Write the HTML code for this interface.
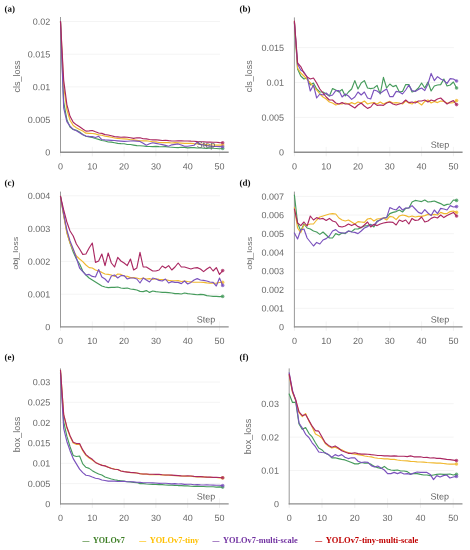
<!DOCTYPE html>
<html lang="en"><head><meta charset="utf-8"><title>Loss curves</title>
<style>
html,body{margin:0;padding:0;background:#fff;}
body{width:470px;height:550px;overflow:hidden;}
svg{display:block;}
.t{font-family:"Liberation Sans",Arial,sans-serif;font-size:9px;fill:#6a6a6a;}
.s{font-family:"Liberation Sans",Arial,sans-serif;font-size:9px;fill:#626262;}
.pl{font-family:"Liberation Serif","Times New Roman",serif;font-weight:bold;font-size:9px;fill:#111;}
.lg{font-family:"Liberation Serif","Times New Roman",serif;font-weight:bold;font-size:9.2px;}
</style></head><body>
<svg width="470" height="550" viewBox="0 0 470 550">
<rect width="470" height="550" fill="#fff"/>
<g><line x1="60.5" y1="21.5" x2="220" y2="21.5" stroke="#f4f4f4" stroke-width="1"/>
<text transform="translate(50.2,24.8) rotate(0.03)" text-anchor="end" class="t">0.02</text>
<line x1="60.5" y1="54.2" x2="220" y2="54.2" stroke="#f4f4f4" stroke-width="1"/>
<text transform="translate(50.2,57.5) rotate(0.03)" text-anchor="end" class="t">0.015</text>
<line x1="60.5" y1="86.9" x2="220" y2="86.9" stroke="#f4f4f4" stroke-width="1"/>
<text transform="translate(50.2,90.2) rotate(0.03)" text-anchor="end" class="t">0.01</text>
<line x1="60.5" y1="119.6" x2="220" y2="119.6" stroke="#f4f4f4" stroke-width="1"/>
<text transform="translate(50.2,122.9) rotate(0.03)" text-anchor="end" class="t">0.005</text>
<text transform="translate(50.2,155.6) rotate(0.03)" text-anchor="end" class="t">0</text>
<line x1="60.5" y1="152.3" x2="60.5" y2="156.3" stroke="#efefef" stroke-width="1"/>
<text transform="translate(60.5,169.4) rotate(0.03)" text-anchor="middle" class="t">0</text>
<line x1="92.3" y1="146.8" x2="92.3" y2="152.3" stroke="#f3f3f3" stroke-width="1"/>
<line x1="92.3" y1="152.3" x2="92.3" y2="156.3" stroke="#efefef" stroke-width="1"/>
<text transform="translate(92.3,169.4) rotate(0.03)" text-anchor="middle" class="t">10</text>
<line x1="124.1" y1="146.8" x2="124.1" y2="152.3" stroke="#f3f3f3" stroke-width="1"/>
<line x1="124.1" y1="152.3" x2="124.1" y2="156.3" stroke="#efefef" stroke-width="1"/>
<text transform="translate(124.1,169.4) rotate(0.03)" text-anchor="middle" class="t">20</text>
<line x1="155.9" y1="146.8" x2="155.9" y2="152.3" stroke="#f3f3f3" stroke-width="1"/>
<line x1="155.9" y1="152.3" x2="155.9" y2="156.3" stroke="#efefef" stroke-width="1"/>
<text transform="translate(155.9,169.4) rotate(0.03)" text-anchor="middle" class="t">30</text>
<line x1="187.7" y1="146.8" x2="187.7" y2="152.3" stroke="#f3f3f3" stroke-width="1"/>
<line x1="187.7" y1="152.3" x2="187.7" y2="156.3" stroke="#efefef" stroke-width="1"/>
<text transform="translate(187.7,169.4) rotate(0.03)" text-anchor="middle" class="t">40</text>
<line x1="219.5" y1="146.8" x2="219.5" y2="152.3" stroke="#f3f3f3" stroke-width="1"/>
<line x1="219.5" y1="152.3" x2="219.5" y2="156.3" stroke="#efefef" stroke-width="1"/>
<text transform="translate(219.5,169.4) rotate(0.03)" text-anchor="middle" class="t">50</text>
<line x1="60.5" y1="17" x2="60.5" y2="152.8" stroke="#999" stroke-width="1"/>
<line x1="60" y1="152.3" x2="228.68" y2="152.3" stroke="#8e8e8e" stroke-width="1.4"/>
<polyline points="60.5,21.5 63.68,101.94 66.86,119.6 70.04,127.12 73.22,129.41 76.4,130.19 79.58,132.03 82.76,134.38 85.94,136.25 89.12,136.9 92.3,137.49 95.48,138.54 98.66,139.4 101.84,140.53 105.02,141.04 108.2,142.02 111.38,142.14 114.56,142.74 117.74,143.32 120.92,143.67 124.1,143.72 127.28,144.46 130.46,144.54 133.64,145.15 136.82,145.69 140,145.72 143.18,146.05 146.36,146.35 149.54,146.54 152.72,146.64 155.9,146.31 159.08,146.67 162.26,146.8 165.44,146.66 168.62,147.05 171.8,147.2 174.98,147.45 178.16,147.63 181.34,147.26 184.52,147.44 187.7,147.82 190.88,147.57 194.06,147.69 197.24,147.96 200.42,147.79 203.6,148.22 206.78,148.33 209.96,147.91 213.14,148.29 216.32,148.53 219.5,148.71 222.68,148.51" fill="none" stroke="#469b5c" stroke-width="1.15" stroke-linejoin="round" stroke-linecap="round"/>
<circle cx="222.68" cy="148.51" r="1.8" fill="#469b5c" fill-opacity="0.75"/>
<polyline points="60.5,21.5 63.68,86.25 66.86,109.79 70.04,120.25 73.22,125.49 76.4,127.71 79.58,129.41 82.76,130.98 85.94,133.19 89.12,133.31 92.3,133.47 95.48,133.94 98.66,134.89 101.84,135.2 105.02,136.29 108.2,136.69 111.38,137.28 114.56,137.99 117.74,138.36 120.92,138.73 124.1,138.92 127.28,139.19 130.46,139.78 133.64,139.89 136.82,140.32 140,140.8 143.18,140.9 146.36,140.78 149.54,141.26 152.72,141.76 155.9,141.87 159.08,142.46 162.26,142.59 165.44,142.67 168.62,142.59 171.8,142.96 174.98,142.65 178.16,142.87 181.34,143.08 184.52,143.37 187.7,143.33 190.88,143.32 194.06,143.64 197.24,143.82 200.42,144.05 203.6,144.21 206.78,144.6 209.96,144.71 213.14,145 216.32,145.1 219.5,145.03 222.68,145.11" fill="none" stroke="#f0b82f" stroke-width="1.15" stroke-linejoin="round" stroke-linecap="round"/>
<circle cx="222.68" cy="145.11" r="1.8" fill="#f0b82f" fill-opacity="0.75"/>
<polyline points="60.5,21.5 63.68,107.83 66.86,121.56 70.04,126.14 73.22,129.41 76.4,130.72 79.58,132.68 82.76,134.77 85.94,136.08 89.12,136.41 92.3,136.6 95.48,137.52 98.66,136.28 101.84,139.55 105.02,139.87 108.2,140.09 111.38,140.31 114.56,140.53 117.74,140.83 120.92,141.14 124.1,141.44 127.28,141.25 130.46,141.05 133.64,140.86 136.82,141.15 140,141.44 143.18,143.34 146.36,145.24 149.54,143.8 152.72,142.75 155.9,143.34 159.08,143.99 162.26,144.65 165.44,145.43 168.62,146.22 171.8,144.84 174.98,144.39 178.16,143.93 181.34,145.07 184.52,146.22 187.7,146.22 190.88,145.73 194.06,145.24 197.24,142.03 200.42,144.32 203.6,145.04 206.78,145.76 209.96,146.09 213.14,146.41 216.32,146.52 219.5,146.63 222.68,146.74" fill="none" stroke="#7b52bd" stroke-width="1.15" stroke-linejoin="round" stroke-linecap="round"/>
<circle cx="222.68" cy="146.74" r="1.8" fill="#7b52bd" fill-opacity="0.75"/>
<polyline points="60.5,21.5 63.68,80.36 66.86,104.56 70.04,116.33 73.22,122.22 76.4,124.83 79.58,126.79 82.76,129.02 85.94,131.12 89.12,130.89 92.3,130.55 95.48,131.83 98.66,132.97 101.84,133.36 105.02,134.64 108.2,135.04 111.38,135.81 114.56,136.6 117.74,136.93 120.92,137.22 124.1,137.19 127.28,137.3 130.46,137.74 133.64,138.42 136.82,137.81 140,137.75 143.18,138.76 146.36,138.93 149.54,139.5 152.72,139.93 155.9,139.71 159.08,140.1 162.26,140.51 165.44,140.24 168.62,140.67 171.8,141.01 174.98,141 178.16,140.91 181.34,140.8 184.52,141.01 187.7,140.97 190.88,141.17 194.06,141.23 197.24,141.65 200.42,141.8 203.6,141.72 206.78,142.08 209.96,142.01 213.14,142.22 216.32,142.27 219.5,142.65 222.68,142.75" fill="none" stroke="#aa2862" stroke-width="1.15" stroke-linejoin="round" stroke-linecap="round"/>
<circle cx="222.68" cy="142.75" r="1.8" fill="#aa2862" fill-opacity="0.75"/>
<text transform="translate(215.3,147.8) rotate(0.03)" text-anchor="end" class="s">Step</text>
<text transform="translate(20.1,76.5) rotate(-90) scale(1,1.0)" text-anchor="middle" class="t">cls_loss</text>
<text transform="translate(4.6,11.7) rotate(0.03)" class="pl">(a)</text></g>
<g><line x1="294.4" y1="47.6" x2="453.9" y2="47.6" stroke="#f4f4f4" stroke-width="1"/>
<text transform="translate(284.1,50.9) rotate(0.03)" text-anchor="end" class="t">0.015</text>
<line x1="294.4" y1="82.5" x2="453.9" y2="82.5" stroke="#f4f4f4" stroke-width="1"/>
<text transform="translate(284.1,85.8) rotate(0.03)" text-anchor="end" class="t">0.01</text>
<line x1="294.4" y1="117.4" x2="453.9" y2="117.4" stroke="#f4f4f4" stroke-width="1"/>
<text transform="translate(284.1,120.7) rotate(0.03)" text-anchor="end" class="t">0.005</text>
<text transform="translate(284.1,155.6) rotate(0.03)" text-anchor="end" class="t">0</text>
<line x1="294.4" y1="152.3" x2="294.4" y2="156.3" stroke="#efefef" stroke-width="1"/>
<text transform="translate(294.4,169.4) rotate(0.03)" text-anchor="middle" class="t">0</text>
<line x1="326.2" y1="146.8" x2="326.2" y2="152.3" stroke="#f3f3f3" stroke-width="1"/>
<line x1="326.2" y1="152.3" x2="326.2" y2="156.3" stroke="#efefef" stroke-width="1"/>
<text transform="translate(326.2,169.4) rotate(0.03)" text-anchor="middle" class="t">10</text>
<line x1="358" y1="146.8" x2="358" y2="152.3" stroke="#f3f3f3" stroke-width="1"/>
<line x1="358" y1="152.3" x2="358" y2="156.3" stroke="#efefef" stroke-width="1"/>
<text transform="translate(358,169.4) rotate(0.03)" text-anchor="middle" class="t">20</text>
<line x1="389.8" y1="146.8" x2="389.8" y2="152.3" stroke="#f3f3f3" stroke-width="1"/>
<line x1="389.8" y1="152.3" x2="389.8" y2="156.3" stroke="#efefef" stroke-width="1"/>
<text transform="translate(389.8,169.4) rotate(0.03)" text-anchor="middle" class="t">30</text>
<line x1="421.6" y1="146.8" x2="421.6" y2="152.3" stroke="#f3f3f3" stroke-width="1"/>
<line x1="421.6" y1="152.3" x2="421.6" y2="156.3" stroke="#efefef" stroke-width="1"/>
<text transform="translate(421.6,169.4) rotate(0.03)" text-anchor="middle" class="t">40</text>
<line x1="453.4" y1="146.8" x2="453.4" y2="152.3" stroke="#f3f3f3" stroke-width="1"/>
<line x1="453.4" y1="152.3" x2="453.4" y2="156.3" stroke="#efefef" stroke-width="1"/>
<text transform="translate(453.4,169.4) rotate(0.03)" text-anchor="middle" class="t">50</text>
<line x1="294.4" y1="17.4" x2="294.4" y2="152.8" stroke="#999" stroke-width="1"/>
<line x1="293.9" y1="152.3" x2="462.58" y2="152.3" stroke="#8e8e8e" stroke-width="1.4"/>
<polyline points="294.4,23 297.58,69 300.76,76 303.94,79 307.12,78 310.3,85 313.48,83 316.66,89 319.84,92 323.02,92 326.2,94 329.38,96 332.56,88.6 335.74,90 338.92,92 342.1,89.4 345.28,96 348.46,92 351.64,89 354.82,80.6 358,89 361.18,83 364.36,80.6 367.54,88 370.72,88.6 373.9,88 377.08,85.4 380.26,94 383.44,77.4 386.62,88 389.8,84 392.98,86.6 396.16,85.4 399.34,92 402.52,91.4 405.7,84.6 408.88,84.6 412.06,92 415.24,91 418.42,88 421.6,83 424.78,88 427.96,82 431.14,91 434.32,86 437.5,85 440.68,84.6 443.86,79 447.04,86 450.22,85 453.4,82 456.58,88" fill="none" stroke="#469b5c" stroke-width="1.15" stroke-linejoin="round" stroke-linecap="round"/>
<circle cx="456.58" cy="88" r="1.8" fill="#469b5c" fill-opacity="0.75"/>
<polyline points="294.4,21.4 297.58,68 300.76,73 303.94,76 307.12,79.4 310.3,83 313.48,86.6 316.66,90 319.84,94 323.02,97 326.2,99 329.38,102 332.56,103 335.74,105 338.92,104 342.1,104 345.28,103 348.46,104 351.64,102.6 354.82,104 358,102 361.18,103 364.36,101 367.54,104 370.72,103 373.9,102.6 377.08,104 380.26,102 383.44,104 386.62,102.6 389.8,101.4 392.98,103 396.16,102.6 399.34,103 402.52,104 405.7,101 408.88,103 412.06,104 415.24,101.4 418.42,102.6 421.6,105 424.78,101.4 427.96,100 431.14,103 434.32,101.4 437.5,102.6 440.68,101 443.86,101.4 447.04,103 450.22,103 453.4,102.6 456.58,100.6" fill="none" stroke="#f0b82f" stroke-width="1.15" stroke-linejoin="round" stroke-linecap="round"/>
<circle cx="456.58" cy="100.6" r="1.8" fill="#f0b82f" fill-opacity="0.75"/>
<polyline points="294.4,22 297.58,64 300.76,70 303.94,72 307.12,77 310.3,91 313.48,85 316.66,98 319.84,94 323.02,95 326.2,93 329.38,96 332.56,95 335.74,90.6 338.92,90.6 342.1,97 345.28,94 348.46,96 351.64,99.4 354.82,97 358,92 361.18,95 364.36,92 367.54,98 370.72,99 373.9,90 377.08,91 380.26,93.4 383.44,91 386.62,89 389.8,96.6 392.98,96.6 396.16,91.4 399.34,92 402.52,94 405.7,90 408.88,85 412.06,90.6 415.24,91.4 418.42,89.4 421.6,88 424.78,90.6 427.96,84 431.14,73.4 434.32,80.6 437.5,76.6 440.68,79 443.86,80.6 447.04,83.4 450.22,78.6 453.4,79 456.58,81" fill="none" stroke="#7b52bd" stroke-width="1.15" stroke-linejoin="round" stroke-linecap="round"/>
<circle cx="456.58" cy="81" r="1.8" fill="#7b52bd" fill-opacity="0.75"/>
<polyline points="294.4,21 297.58,63 300.76,66.6 303.94,73 307.12,77 310.3,79 313.48,78 316.66,83 319.84,89 323.02,93 326.2,97 329.38,100 332.56,100 335.74,103 338.92,104 342.1,102.6 345.28,104 348.46,104 351.64,106 354.82,108 358,105 361.18,103 364.36,106 367.54,108.4 370.72,107 373.9,103 377.08,105.4 380.26,105 383.44,105.4 386.62,103 389.8,102 392.98,104 396.16,105 399.34,104 402.52,103 405.7,100 408.88,102.6 412.06,102 415.24,103 418.42,101 421.6,101 424.78,100 427.96,102 431.14,100 434.32,101 437.5,99 440.68,98 443.86,101 447.04,104 450.22,102 453.4,100.6 456.58,104.6" fill="none" stroke="#aa2862" stroke-width="1.15" stroke-linejoin="round" stroke-linecap="round"/>
<circle cx="456.58" cy="104.6" r="1.8" fill="#aa2862" fill-opacity="0.75"/>
<text transform="translate(449.2,147.8) rotate(0.03)" text-anchor="end" class="s">Step</text>
<text transform="translate(251.7,76.3) rotate(-90) scale(1,0.95)" text-anchor="middle" class="t">cls_loss</text>
<text transform="translate(239.6,11.7) rotate(0.03)" class="pl">(b)</text></g>
<g><line x1="60.5" y1="195.8" x2="220" y2="195.8" stroke="#f4f4f4" stroke-width="1"/>
<text transform="translate(50.2,199.1) rotate(0.03)" text-anchor="end" class="t">0.004</text>
<line x1="60.5" y1="228.6" x2="220" y2="228.6" stroke="#f4f4f4" stroke-width="1"/>
<text transform="translate(50.2,231.9) rotate(0.03)" text-anchor="end" class="t">0.003</text>
<line x1="60.5" y1="261.4" x2="220" y2="261.4" stroke="#f4f4f4" stroke-width="1"/>
<text transform="translate(50.2,264.7) rotate(0.03)" text-anchor="end" class="t">0.002</text>
<line x1="60.5" y1="294.2" x2="220" y2="294.2" stroke="#f4f4f4" stroke-width="1"/>
<text transform="translate(50.2,297.5) rotate(0.03)" text-anchor="end" class="t">0.001</text>
<text transform="translate(50.2,330.2) rotate(0.03)" text-anchor="end" class="t">0</text>
<line x1="60.5" y1="326.9" x2="60.5" y2="330.9" stroke="#efefef" stroke-width="1"/>
<text transform="translate(60.5,344) rotate(0.03)" text-anchor="middle" class="t">0</text>
<line x1="92.3" y1="321.4" x2="92.3" y2="326.9" stroke="#f3f3f3" stroke-width="1"/>
<line x1="92.3" y1="326.9" x2="92.3" y2="330.9" stroke="#efefef" stroke-width="1"/>
<text transform="translate(92.3,344) rotate(0.03)" text-anchor="middle" class="t">10</text>
<line x1="124.1" y1="321.4" x2="124.1" y2="326.9" stroke="#f3f3f3" stroke-width="1"/>
<line x1="124.1" y1="326.9" x2="124.1" y2="330.9" stroke="#efefef" stroke-width="1"/>
<text transform="translate(124.1,344) rotate(0.03)" text-anchor="middle" class="t">20</text>
<line x1="155.9" y1="321.4" x2="155.9" y2="326.9" stroke="#f3f3f3" stroke-width="1"/>
<line x1="155.9" y1="326.9" x2="155.9" y2="330.9" stroke="#efefef" stroke-width="1"/>
<text transform="translate(155.9,344) rotate(0.03)" text-anchor="middle" class="t">30</text>
<line x1="187.7" y1="321.4" x2="187.7" y2="326.9" stroke="#f3f3f3" stroke-width="1"/>
<line x1="187.7" y1="326.9" x2="187.7" y2="330.9" stroke="#efefef" stroke-width="1"/>
<text transform="translate(187.7,344) rotate(0.03)" text-anchor="middle" class="t">40</text>
<line x1="219.5" y1="321.4" x2="219.5" y2="326.9" stroke="#f3f3f3" stroke-width="1"/>
<line x1="219.5" y1="326.9" x2="219.5" y2="330.9" stroke="#efefef" stroke-width="1"/>
<text transform="translate(219.5,344) rotate(0.03)" text-anchor="middle" class="t">50</text>
<line x1="60.5" y1="191.6" x2="60.5" y2="327.4" stroke="#999" stroke-width="1"/>
<line x1="60" y1="326.9" x2="228.68" y2="326.9" stroke="#8e8e8e" stroke-width="1.4"/>
<polyline points="60.5,196.4 63.68,215 66.86,232 70.04,243 73.22,252 76.4,259 79.58,264 82.76,271 85.94,275 89.12,278 92.3,280 95.48,282 98.66,284 101.84,286 105.02,287 108.2,287.6 111.38,287.4 114.56,287.4 117.74,287 120.92,288 124.1,288.4 127.28,288 130.46,289 133.64,289.4 136.82,290 140,291.4 143.18,291.6 146.36,290.6 149.54,292.4 152.72,291 155.9,291.6 159.08,292 162.26,292.4 165.44,292.4 168.62,292.6 171.8,293 174.98,293.6 178.16,293.6 181.34,294 184.52,293 187.7,293.6 190.88,294 194.06,294.4 197.24,294.8 200.42,294.4 203.6,294.6 206.78,295.6 209.96,296 213.14,296.4 216.32,296.4 219.5,296.6 222.68,296.4" fill="none" stroke="#469b5c" stroke-width="1.15" stroke-linejoin="round" stroke-linecap="round"/>
<circle cx="222.68" cy="296.4" r="1.8" fill="#469b5c" fill-opacity="0.75"/>
<polyline points="60.5,196.4 63.68,216 66.86,233 70.04,243 73.22,250 76.4,256 79.58,259 82.76,261.6 85.94,265 89.12,267.6 92.3,268 95.48,270 98.66,271 101.84,272.4 105.02,274 108.2,274.4 111.38,275 114.56,276.4 117.74,274 120.92,274.4 124.1,276 127.28,276.4 130.46,277.6 133.64,277.6 136.82,278 140,279 143.18,278 146.36,279 149.54,278.68 152.72,279.51 155.9,278.71 159.08,279.41 162.26,279.53 165.44,279.8 168.62,280.38 171.8,280.71 174.98,280.78 178.16,280.65 181.34,281.55 184.52,281.08 187.7,281.52 190.88,281.83 194.06,282.27 197.24,282.23 200.42,282.28 203.6,282.33 206.78,282.83 209.96,283.06 213.14,283.26 216.32,283.15 219.5,282.52 222.68,282.4" fill="none" stroke="#f0b82f" stroke-width="1.15" stroke-linejoin="round" stroke-linecap="round"/>
<circle cx="222.68" cy="282.4" r="1.8" fill="#f0b82f" fill-opacity="0.75"/>
<polyline points="60.5,196.4 63.68,214 66.86,230 70.04,241 73.22,249 76.4,258 79.58,268 82.76,271.6 85.94,275 89.12,274.4 92.3,276.4 95.48,277 98.66,269.6 101.84,277 105.02,279 108.2,282.4 111.38,276 114.56,275 117.74,278 120.92,275.6 124.1,275.6 127.28,279 130.46,278 133.64,278 136.82,279 140,283 143.18,278 146.36,280 149.54,282 152.72,278 155.9,279 159.08,280.4 162.26,281 165.44,279 168.62,283 171.8,281.6 174.98,282.4 178.16,282.4 181.34,283.6 184.52,281 187.7,284 190.88,282.4 194.06,280 197.24,278.6 200.42,280 203.6,280.4 206.78,281 209.96,282 213.14,282.4 216.32,286 219.5,278 222.68,285.4" fill="none" stroke="#7b52bd" stroke-width="1.15" stroke-linejoin="round" stroke-linecap="round"/>
<circle cx="222.68" cy="285.4" r="1.8" fill="#7b52bd" fill-opacity="0.75"/>
<polyline points="60.5,196.4 63.68,210 66.86,222 70.04,231 73.22,236 76.4,244 79.58,249 82.76,254.4 85.94,254 89.12,248 92.3,243 95.48,262.4 98.66,261 101.84,254 105.02,265.6 108.2,253 111.38,263 114.56,267 117.74,257.4 120.92,261 124.1,263 127.28,265.6 130.46,259 133.64,270 136.82,268 140,252.4 143.18,267 146.36,267 149.54,269 152.72,271 155.9,271 159.08,270 162.26,266 165.44,268 168.62,265.6 171.8,270 174.98,267 178.16,263 181.34,267 184.52,267 187.7,268 190.88,269 194.06,268 197.24,267.6 200.42,269 203.6,271.6 206.78,269 209.96,267 213.14,271 216.32,267.6 219.5,274.4 222.68,270.6" fill="none" stroke="#aa2862" stroke-width="1.15" stroke-linejoin="round" stroke-linecap="round"/>
<circle cx="222.68" cy="270.6" r="1.8" fill="#aa2862" fill-opacity="0.75"/>
<text transform="translate(215.3,322.4) rotate(0.03)" text-anchor="end" class="s">Step</text>
<text transform="translate(17.9,253.2) rotate(-90) scale(1,0.78)" text-anchor="middle" class="t">obj_loss</text>
<text transform="translate(4.6,185.7) rotate(0.03)" class="pl">(c)</text></g>
<g><line x1="294.4" y1="196.4" x2="453.9" y2="196.4" stroke="#f4f4f4" stroke-width="1"/>
<text transform="translate(284.1,199.7) rotate(0.03)" text-anchor="end" class="t">0.007</text>
<line x1="294.4" y1="215.05" x2="453.9" y2="215.05" stroke="#f4f4f4" stroke-width="1"/>
<text transform="translate(284.1,218.35) rotate(0.03)" text-anchor="end" class="t">0.006</text>
<line x1="294.4" y1="233.7" x2="453.9" y2="233.7" stroke="#f4f4f4" stroke-width="1"/>
<text transform="translate(284.1,237) rotate(0.03)" text-anchor="end" class="t">0.005</text>
<line x1="294.4" y1="252.35" x2="453.9" y2="252.35" stroke="#f4f4f4" stroke-width="1"/>
<text transform="translate(284.1,255.65) rotate(0.03)" text-anchor="end" class="t">0.004</text>
<line x1="294.4" y1="271" x2="453.9" y2="271" stroke="#f4f4f4" stroke-width="1"/>
<text transform="translate(284.1,274.3) rotate(0.03)" text-anchor="end" class="t">0.003</text>
<line x1="294.4" y1="289.65" x2="453.9" y2="289.65" stroke="#f4f4f4" stroke-width="1"/>
<text transform="translate(284.1,292.95) rotate(0.03)" text-anchor="end" class="t">0.002</text>
<line x1="294.4" y1="308.3" x2="453.9" y2="308.3" stroke="#f4f4f4" stroke-width="1"/>
<text transform="translate(284.1,311.6) rotate(0.03)" text-anchor="end" class="t">0.001</text>
<text transform="translate(284.1,330.2) rotate(0.03)" text-anchor="end" class="t">0</text>
<line x1="294.4" y1="326.9" x2="294.4" y2="330.9" stroke="#efefef" stroke-width="1"/>
<text transform="translate(294.4,344) rotate(0.03)" text-anchor="middle" class="t">0</text>
<line x1="326.2" y1="321.4" x2="326.2" y2="326.9" stroke="#f3f3f3" stroke-width="1"/>
<line x1="326.2" y1="326.9" x2="326.2" y2="330.9" stroke="#efefef" stroke-width="1"/>
<text transform="translate(326.2,344) rotate(0.03)" text-anchor="middle" class="t">10</text>
<line x1="358" y1="321.4" x2="358" y2="326.9" stroke="#f3f3f3" stroke-width="1"/>
<line x1="358" y1="326.9" x2="358" y2="330.9" stroke="#efefef" stroke-width="1"/>
<text transform="translate(358,344) rotate(0.03)" text-anchor="middle" class="t">20</text>
<line x1="389.8" y1="321.4" x2="389.8" y2="326.9" stroke="#f3f3f3" stroke-width="1"/>
<line x1="389.8" y1="326.9" x2="389.8" y2="330.9" stroke="#efefef" stroke-width="1"/>
<text transform="translate(389.8,344) rotate(0.03)" text-anchor="middle" class="t">30</text>
<line x1="421.6" y1="321.4" x2="421.6" y2="326.9" stroke="#f3f3f3" stroke-width="1"/>
<line x1="421.6" y1="326.9" x2="421.6" y2="330.9" stroke="#efefef" stroke-width="1"/>
<text transform="translate(421.6,344) rotate(0.03)" text-anchor="middle" class="t">40</text>
<line x1="453.4" y1="321.4" x2="453.4" y2="326.9" stroke="#f3f3f3" stroke-width="1"/>
<line x1="453.4" y1="326.9" x2="453.4" y2="330.9" stroke="#efefef" stroke-width="1"/>
<text transform="translate(453.4,344) rotate(0.03)" text-anchor="middle" class="t">50</text>
<line x1="294.4" y1="191.6" x2="294.4" y2="327.4" stroke="#999" stroke-width="1"/>
<line x1="293.9" y1="326.9" x2="462.58" y2="326.9" stroke="#8e8e8e" stroke-width="1.4"/>
<polyline points="294.4,195 297.58,223 300.76,231 303.94,224 307.12,228 310.3,229 313.48,231 316.66,232 319.84,234.4 323.02,232 326.2,235 329.38,238 332.56,238 335.74,233.6 338.92,235 342.1,233 345.28,233.6 348.46,231 351.64,231.6 354.82,229 358,229 361.18,227.6 364.36,226 367.54,225.6 370.72,224.4 373.9,227 377.08,221 380.26,220 383.44,218 386.62,217.6 389.8,213.6 392.98,212.4 396.16,211.6 399.34,210 402.52,212 405.7,208.4 408.88,208 412.06,202 415.24,200.4 418.42,201 421.6,201.6 424.78,200 427.96,202 431.14,201.6 434.32,201 437.5,202.4 440.68,203.6 443.86,205.6 447.04,204.4 450.22,204 453.4,200 456.58,200.4" fill="none" stroke="#469b5c" stroke-width="1.15" stroke-linejoin="round" stroke-linecap="round"/>
<circle cx="456.58" cy="200.4" r="1.8" fill="#469b5c" fill-opacity="0.75"/>
<polyline points="294.4,207.6 297.58,228 300.76,232.6 303.94,225 307.12,225 310.3,224 313.48,224 316.66,220 319.84,217 323.02,216 326.2,215 329.38,214 332.56,213.6 335.74,214 338.92,218 342.1,220 345.28,221 348.46,220 351.64,222 354.82,224 358,221.6 361.18,222 364.36,222.4 367.54,219 370.72,218.4 373.9,221 377.08,219 380.26,218.6 383.44,218 386.62,220 389.8,216.4 392.98,217 396.16,219.6 399.34,216 402.52,215 405.7,215.6 408.88,217 412.06,216 415.24,217 418.42,216.4 421.6,216.4 424.78,215.6 427.96,214.4 431.14,215 434.32,214.4 437.5,215 440.68,212.4 443.86,213.6 447.04,213.6 450.22,211.6 453.4,211 456.58,212.4" fill="none" stroke="#f0b82f" stroke-width="1.15" stroke-linejoin="round" stroke-linecap="round"/>
<circle cx="456.58" cy="212.4" r="1.8" fill="#f0b82f" fill-opacity="0.75"/>
<polyline points="294.4,233 297.58,239 300.76,230 303.94,229 307.12,238 310.3,242 313.48,246 316.66,242.4 319.84,244 323.02,240 326.2,238.6 329.38,236 332.56,231 335.74,229.6 338.92,232.4 342.1,233 345.28,233 348.46,231 351.64,232 354.82,232.4 358,233.6 361.18,231 364.36,228 367.54,226.6 370.72,225 373.9,225 377.08,222 380.26,219.6 383.44,218 386.62,217.6 389.8,207.6 392.98,209 396.16,210 399.34,206.4 402.52,210 405.7,208 408.88,208 412.06,205.6 415.24,209 418.42,212.4 421.6,213.6 424.78,209.6 427.96,213 431.14,215.6 434.32,210 437.5,213.6 440.68,208.4 443.86,209 447.04,210 450.22,205.6 453.4,207 456.58,206.6" fill="none" stroke="#7b52bd" stroke-width="1.15" stroke-linejoin="round" stroke-linecap="round"/>
<circle cx="456.58" cy="206.6" r="1.8" fill="#7b52bd" fill-opacity="0.75"/>
<polyline points="294.4,209 297.58,223 300.76,225.6 303.94,222 307.12,226 310.3,216 313.48,220 316.66,217.6 319.84,219 323.02,218.4 326.2,220.4 329.38,218.4 332.56,221 335.74,222 338.92,226.4 342.1,227 345.28,226 348.46,224 351.64,225.6 354.82,224 358,226.6 361.18,227.6 364.36,225 367.54,222 370.72,227 373.9,224.4 377.08,225.6 380.26,224 383.44,223 386.62,222.4 389.8,222 392.98,222.4 396.16,225 399.34,220 402.52,221.6 405.7,220 408.88,224 412.06,218.4 415.24,220.4 418.42,220 421.6,217 424.78,222 427.96,221 431.14,218.4 434.32,217 437.5,218 440.68,215 443.86,217.6 447.04,215.6 450.22,214 453.4,212.4 456.58,216" fill="none" stroke="#aa2862" stroke-width="1.15" stroke-linejoin="round" stroke-linecap="round"/>
<circle cx="456.58" cy="216" r="1.8" fill="#aa2862" fill-opacity="0.75"/>
<text transform="translate(449.2,322.4) rotate(0.03)" text-anchor="end" class="s">Step</text>
<text transform="translate(251.9,253.2) rotate(-90) scale(1,0.9)" text-anchor="middle" class="t">obj_loss</text>
<text transform="translate(239.6,185.7) rotate(0.03)" class="pl">(d)</text></g>
<g><line x1="60.5" y1="382" x2="220" y2="382" stroke="#f4f4f4" stroke-width="1"/>
<text transform="translate(50.2,385.3) rotate(0.03)" text-anchor="end" class="t">0.03</text>
<line x1="60.5" y1="402.3" x2="220" y2="402.3" stroke="#f4f4f4" stroke-width="1"/>
<text transform="translate(50.2,405.6) rotate(0.03)" text-anchor="end" class="t">0.025</text>
<line x1="60.5" y1="422.6" x2="220" y2="422.6" stroke="#f4f4f4" stroke-width="1"/>
<text transform="translate(50.2,425.9) rotate(0.03)" text-anchor="end" class="t">0.02</text>
<line x1="60.5" y1="443" x2="220" y2="443" stroke="#f4f4f4" stroke-width="1"/>
<text transform="translate(50.2,446.3) rotate(0.03)" text-anchor="end" class="t">0.015</text>
<line x1="60.5" y1="463.3" x2="220" y2="463.3" stroke="#f4f4f4" stroke-width="1"/>
<text transform="translate(50.2,466.6) rotate(0.03)" text-anchor="end" class="t">0.01</text>
<line x1="60.5" y1="483.6" x2="220" y2="483.6" stroke="#f4f4f4" stroke-width="1"/>
<text transform="translate(50.2,486.9) rotate(0.03)" text-anchor="end" class="t">0.005</text>
<text transform="translate(50.2,507.2) rotate(0.03)" text-anchor="end" class="t">0</text>
<line x1="60.5" y1="503.9" x2="60.5" y2="507.9" stroke="#efefef" stroke-width="1"/>
<text transform="translate(60.5,521) rotate(0.03)" text-anchor="middle" class="t">0</text>
<line x1="92.3" y1="498.4" x2="92.3" y2="503.9" stroke="#f3f3f3" stroke-width="1"/>
<line x1="92.3" y1="503.9" x2="92.3" y2="507.9" stroke="#efefef" stroke-width="1"/>
<text transform="translate(92.3,521) rotate(0.03)" text-anchor="middle" class="t">10</text>
<line x1="124.1" y1="498.4" x2="124.1" y2="503.9" stroke="#f3f3f3" stroke-width="1"/>
<line x1="124.1" y1="503.9" x2="124.1" y2="507.9" stroke="#efefef" stroke-width="1"/>
<text transform="translate(124.1,521) rotate(0.03)" text-anchor="middle" class="t">20</text>
<line x1="155.9" y1="498.4" x2="155.9" y2="503.9" stroke="#f3f3f3" stroke-width="1"/>
<line x1="155.9" y1="503.9" x2="155.9" y2="507.9" stroke="#efefef" stroke-width="1"/>
<text transform="translate(155.9,521) rotate(0.03)" text-anchor="middle" class="t">30</text>
<line x1="187.7" y1="498.4" x2="187.7" y2="503.9" stroke="#f3f3f3" stroke-width="1"/>
<line x1="187.7" y1="503.9" x2="187.7" y2="507.9" stroke="#efefef" stroke-width="1"/>
<text transform="translate(187.7,521) rotate(0.03)" text-anchor="middle" class="t">40</text>
<line x1="219.5" y1="498.4" x2="219.5" y2="503.9" stroke="#f3f3f3" stroke-width="1"/>
<line x1="219.5" y1="503.9" x2="219.5" y2="507.9" stroke="#efefef" stroke-width="1"/>
<text transform="translate(219.5,521) rotate(0.03)" text-anchor="middle" class="t">50</text>
<line x1="60.5" y1="368.4" x2="60.5" y2="504.4" stroke="#999" stroke-width="1"/>
<line x1="60" y1="503.9" x2="228.68" y2="503.9" stroke="#8e8e8e" stroke-width="1.4"/>
<polyline points="60.5,372.38 63.68,421.68 66.86,436.18 70.04,446.73 73.22,455.43 76.4,456.48 79.58,455.96 82.76,463.87 85.94,467.29 89.12,468.35 92.3,470.64 95.48,472.54 98.66,473.92 101.84,475.02 105.02,476.98 108.2,477.97 111.38,478.95 114.56,479.79 117.74,480.35 120.92,480.79 124.1,481.17 127.28,481.7 130.46,481.89 133.64,482.48 136.82,482.57 140,483.64 143.18,483.66 146.36,484.04 149.54,484.25 152.72,484.33 155.9,484.32 159.08,484.69 162.26,484.59 165.44,485.02 168.62,485.07 171.8,485.11 174.98,485.35 178.16,485.55 181.34,485.56 184.52,485.94 187.7,485.93 190.88,486.23 194.06,486.32 197.24,486.14 200.42,486.48 203.6,486.46 206.78,486.73 209.96,486.74 213.14,486.8 216.32,487.08 219.5,486.84 222.68,487.11" fill="none" stroke="#469b5c" stroke-width="1.15" stroke-linejoin="round" stroke-linecap="round"/>
<circle cx="222.68" cy="487.11" r="1.8" fill="#469b5c" fill-opacity="0.75"/>
<polyline points="60.5,370.27 63.68,414.56 66.86,427.75 70.04,436.45 73.22,443.04 76.4,444.36 79.58,444.36 82.76,450.68 85.94,455.43 89.12,458.07 92.3,460.09 95.48,462.4 98.66,464.03 101.84,465 105.02,466.04 108.2,467.12 111.38,468.29 114.56,469.11 117.74,469.54 120.92,470.99 124.1,471.53 127.28,471.97 130.46,472.66 133.64,472.69 136.82,472.97 140,473.56 143.18,474.1 146.36,474.16 149.54,474.57 152.72,474.66 155.9,474.5 159.08,474.76 162.26,474.86 165.44,475.1 168.62,475.18 171.8,475.43 174.98,475.75 178.16,475.69 181.34,475.95 184.52,476.08 187.7,476.29 190.88,476.17 194.06,476.6 197.24,476.83 200.42,476.85 203.6,476.87 206.78,477.19 209.96,477.36 213.14,477.5 216.32,477.46 219.5,477.95 222.68,477.92" fill="none" stroke="#f0b82f" stroke-width="1.15" stroke-linejoin="round" stroke-linecap="round"/>
<circle cx="222.68" cy="477.92" r="1.8" fill="#f0b82f" fill-opacity="0.75"/>
<polyline points="60.5,372.91 63.68,428.27 66.86,441.46 70.04,450.68 73.22,458.59 76.4,463.87 79.58,469.14 82.76,472.57 85.94,475.2 89.12,475.73 92.3,477.07 95.48,478.3 98.66,478.71 101.84,480.05 105.02,480.5 108.2,481.16 111.38,481.04 114.56,481.07 117.74,481.46 120.92,481.24 124.1,481.35 127.28,481.76 130.46,481.74 133.64,481.87 136.82,482.21 140,482.44 143.18,482.78 146.36,482.8 149.54,482.79 152.72,482.8 155.9,482.98 159.08,483.39 162.26,483.28 165.44,483.3 168.62,483.47 171.8,483.82 174.98,483.64 178.16,484 181.34,483.86 184.52,484.31 187.7,484.25 190.88,484.21 194.06,484.71 197.24,484.64 200.42,484.94 203.6,485.01 206.78,484.93 209.96,485.04 213.14,485.15 216.32,485.25 219.5,485.3 222.68,485.58" fill="none" stroke="#7b52bd" stroke-width="1.15" stroke-linejoin="round" stroke-linecap="round"/>
<circle cx="222.68" cy="485.58" r="1.8" fill="#7b52bd" fill-opacity="0.75"/>
<polyline points="60.5,370.27 63.68,414.56 66.86,426.96 70.04,435.66 73.22,442.25 76.4,443.57 79.58,443.57 82.76,449.89 85.94,454.64 89.12,457.28 92.3,459.29 95.48,462.42 98.66,464.02 101.84,465.35 105.02,465.85 108.2,467.27 111.38,468.44 114.56,469.28 117.74,469.53 120.92,471.05 124.1,471.64 127.28,472.06 130.46,472.43 133.64,472.64 136.82,473.01 140,473.74 143.18,473.97 146.36,474.03 149.54,474.25 152.72,474.21 155.9,474.33 159.08,474.43 162.26,474.79 165.44,475.01 168.62,475.05 171.8,475.09 174.98,475.32 178.16,475.58 181.34,475.87 184.52,476.05 187.7,475.9 190.88,475.96 194.06,476.44 197.24,476.63 200.42,476.6 203.6,476.88 206.78,477.07 209.96,477.13 213.14,477.4 216.32,477.22 219.5,477.47 222.68,477.73" fill="none" stroke="#aa2862" stroke-width="1.15" stroke-linejoin="round" stroke-linecap="round"/>
<circle cx="222.68" cy="477.73" r="1.8" fill="#aa2862" fill-opacity="0.75"/>
<text transform="translate(215.3,499.4) rotate(0.03)" text-anchor="end" class="s">Step</text>
<text transform="translate(19.7,434.5) rotate(-90) scale(1,1.0)" text-anchor="middle" class="t">box_loss</text>
<text transform="translate(4.6,359.9) rotate(0.03)" class="pl">(e)</text></g>
<g><line x1="289.2" y1="403.7" x2="453.7" y2="403.7" stroke="#f4f4f4" stroke-width="1"/>
<text transform="translate(278.9,407) rotate(0.03)" text-anchor="end" class="t">0.03</text>
<line x1="289.2" y1="437.1" x2="453.7" y2="437.1" stroke="#f4f4f4" stroke-width="1"/>
<text transform="translate(278.9,440.4) rotate(0.03)" text-anchor="end" class="t">0.02</text>
<line x1="289.2" y1="470.5" x2="453.7" y2="470.5" stroke="#f4f4f4" stroke-width="1"/>
<text transform="translate(278.9,473.8) rotate(0.03)" text-anchor="end" class="t">0.01</text>
<text transform="translate(278.9,507.2) rotate(0.03)" text-anchor="end" class="t">0</text>
<line x1="289.2" y1="503.9" x2="289.2" y2="507.9" stroke="#efefef" stroke-width="1"/>
<text transform="translate(289.2,521) rotate(0.03)" text-anchor="middle" class="t">0</text>
<line x1="322" y1="498.4" x2="322" y2="503.9" stroke="#f3f3f3" stroke-width="1"/>
<line x1="322" y1="503.9" x2="322" y2="507.9" stroke="#efefef" stroke-width="1"/>
<text transform="translate(322,521) rotate(0.03)" text-anchor="middle" class="t">10</text>
<line x1="354.8" y1="498.4" x2="354.8" y2="503.9" stroke="#f3f3f3" stroke-width="1"/>
<line x1="354.8" y1="503.9" x2="354.8" y2="507.9" stroke="#efefef" stroke-width="1"/>
<text transform="translate(354.8,521) rotate(0.03)" text-anchor="middle" class="t">20</text>
<line x1="387.6" y1="498.4" x2="387.6" y2="503.9" stroke="#f3f3f3" stroke-width="1"/>
<line x1="387.6" y1="503.9" x2="387.6" y2="507.9" stroke="#efefef" stroke-width="1"/>
<text transform="translate(387.6,521) rotate(0.03)" text-anchor="middle" class="t">30</text>
<line x1="420.4" y1="498.4" x2="420.4" y2="503.9" stroke="#f3f3f3" stroke-width="1"/>
<line x1="420.4" y1="503.9" x2="420.4" y2="507.9" stroke="#efefef" stroke-width="1"/>
<text transform="translate(420.4,521) rotate(0.03)" text-anchor="middle" class="t">40</text>
<line x1="453.2" y1="498.4" x2="453.2" y2="503.9" stroke="#f3f3f3" stroke-width="1"/>
<line x1="453.2" y1="503.9" x2="453.2" y2="507.9" stroke="#efefef" stroke-width="1"/>
<text transform="translate(453.2,521) rotate(0.03)" text-anchor="middle" class="t">50</text>
<line x1="289.2" y1="368.4" x2="289.2" y2="504.4" stroke="#999" stroke-width="1"/>
<line x1="288.7" y1="503.9" x2="462.48" y2="503.9" stroke="#8e8e8e" stroke-width="1.4"/>
<polyline points="289.2,394 292.48,402.44 295.76,402.44 299.04,424.06 302.32,429.33 305.6,427.48 308.88,433.28 312.16,436.97 315.44,442.77 318.72,448.05 322,449.89 325.28,453.32 328.56,454.64 331.84,457.8 335.12,457.8 338.4,458.59 341.68,459.38 344.96,459.91 348.24,461.23 351.52,462.55 354.8,463.87 358.08,463.87 361.36,462.55 364.64,463.08 367.92,463 371.2,464.4 374.48,466.4 377.76,467.6 381.04,468.4 384.32,466.4 387.6,469 390.88,470 394.16,470.4 397.44,470 400.72,471 404,471 407.28,471.6 410.56,474 413.84,473.6 417.12,473.6 420.4,474.4 423.68,475 426.96,475 430.24,475.6 433.52,475 436.8,474.4 440.08,474 443.36,474.4 446.64,474.4 449.92,474 453.2,475 456.48,474.4" fill="none" stroke="#469b5c" stroke-width="1.15" stroke-linejoin="round" stroke-linecap="round"/>
<circle cx="456.48" cy="474.4" r="1.8" fill="#469b5c" fill-opacity="0.75"/>
<polyline points="289.2,375.55 292.48,392.42 295.76,400.86 299.04,412.72 302.32,416.67 305.6,413.51 308.88,420.89 312.16,426.96 315.44,434.07 318.72,435.66 322,438.29 325.28,443.57 328.56,446.2 331.84,448.05 335.12,447.26 338.4,448.84 341.68,449.89 344.96,451.48 348.24,452.53 351.52,453.58 354.8,454.11 358.08,454.64 361.36,455.17 364.64,455.96 367.92,456.5 371.2,456.84 374.48,457.74 377.76,458.27 381.04,458.46 384.32,458.82 387.6,458.91 390.88,459.4 394.16,459.41 397.44,460.01 400.72,460.52 404,460.79 407.28,460.84 410.56,461.43 413.84,461.5 417.12,461.92 420.4,462 423.68,462.06 426.96,462.49 430.24,462.72 433.52,462.88 436.8,463.19 440.08,463.1 443.36,463.49 446.64,463.86 449.92,464.12 453.2,464.16 456.48,464" fill="none" stroke="#f0b82f" stroke-width="1.15" stroke-linejoin="round" stroke-linecap="round"/>
<circle cx="456.48" cy="464" r="1.8" fill="#f0b82f" fill-opacity="0.75"/>
<polyline points="289.2,372.91 292.48,390.31 295.76,400.59 299.04,423 302.32,428.01 305.6,434.34 308.88,437.5 312.16,442.77 315.44,446.73 318.72,452 322,452.53 325.28,452.79 328.56,454.64 331.84,457.28 335.12,454.64 338.4,455.96 341.68,454.64 344.96,457.28 348.24,458.59 351.52,457.8 354.8,457.8 358.08,461.23 361.36,462.55 364.64,462.02 367.92,462.4 371.2,465.6 374.48,467 377.76,466 381.04,468 384.32,470 387.6,473.6 390.88,473.6 394.16,472.4 397.44,473.6 400.72,472.4 404,474 407.28,473.6 410.56,474.4 413.84,473 417.12,472 420.4,472.4 423.68,472.4 426.96,472.4 430.24,474.4 433.52,479.6 436.8,475.6 440.08,477 443.36,475.6 446.64,475 449.92,478 453.2,477 456.48,476.4" fill="none" stroke="#7b52bd" stroke-width="1.15" stroke-linejoin="round" stroke-linecap="round"/>
<circle cx="456.48" cy="476.4" r="1.8" fill="#7b52bd" fill-opacity="0.75"/>
<polyline points="289.2,374.23 292.48,391.63 295.76,399.8 299.04,411.93 302.32,415.62 305.6,414.56 308.88,420.37 312.16,426.17 315.44,430.65 318.72,431.17 322,436.97 325.28,442.77 328.56,445.41 331.84,447.26 335.12,445.94 338.4,448.05 341.68,450.68 344.96,452 348.24,453.32 351.52,453.32 354.8,452.79 358.08,453.58 361.36,454.11 364.64,454.11 367.92,454.3 371.2,454.69 374.48,455 377.76,455.47 381.04,455.47 384.32,455.88 387.6,455.94 390.88,456.14 394.16,455.85 397.44,456.19 400.72,456.2 404,456.26 407.28,456.62 410.56,455.91 413.84,456.8 417.12,456.81 420.4,456.77 423.68,457.45 426.96,457.38 430.24,457.96 433.52,457.75 436.8,458.39 440.08,458.43 443.36,458.82 446.64,459.43 449.92,459.59 453.2,460.08 456.48,460.6" fill="none" stroke="#aa2862" stroke-width="1.15" stroke-linejoin="round" stroke-linecap="round"/>
<circle cx="456.48" cy="460.6" r="1.8" fill="#aa2862" fill-opacity="0.75"/>
<text transform="translate(449,499.4) rotate(0.03)" text-anchor="end" class="s">Step</text>
<text transform="translate(250.7,436.4) rotate(-90) scale(1,0.97)" text-anchor="middle" class="t">box_loss</text>
<text transform="translate(239.6,359.9) rotate(0.03)" class="pl">(f)</text></g>
<text y="543.2" class="lg" fill="#3b7d23"><tspan x="82.5" textLength="6.9" lengthAdjust="spacingAndGlyphs">—</tspan><tspan x="93" textLength="31.8" lengthAdjust="spacingAndGlyphs">YOLOv7</tspan></text>
<text y="543.2" class="lg" fill="#ffc000"><tspan x="139.2" textLength="6.9" lengthAdjust="spacingAndGlyphs">—</tspan><tspan x="149.7" textLength="49.2" lengthAdjust="spacingAndGlyphs">YOLOv7-tiny</tspan></text>
<text y="543.2" class="lg" fill="#7030a0"><tspan x="212.5" textLength="6.9" lengthAdjust="spacingAndGlyphs">—</tspan><tspan x="223" textLength="74.7" lengthAdjust="spacingAndGlyphs">YOLOv7-multi-scale</tspan></text>
<text y="543.2" class="lg" fill="#c00000"><tspan x="315.2" textLength="6.9" lengthAdjust="spacingAndGlyphs">—</tspan><tspan x="325.7" textLength="92.7" lengthAdjust="spacingAndGlyphs">YOLOv7-tiny-multi-scale</tspan></text>
</svg>
</body></html>
